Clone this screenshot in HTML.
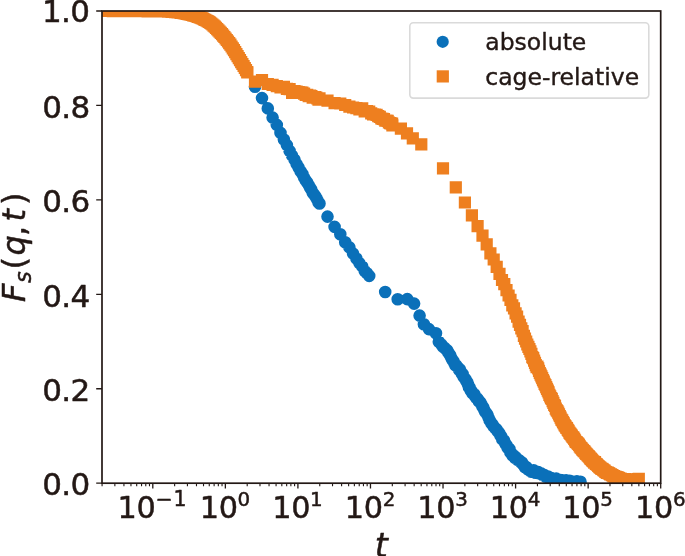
<!DOCTYPE html>
<html lang="en"><head><meta charset="utf-8"><title>Fs(q,t)</title>
<style>html,body{margin:0;padding:0;background:#fff}body{width:685px;height:556px;overflow:hidden}</style>
</head><body>
<svg width="685" height="556" viewBox="0 0 685 556" style="display:block">
<rect width="685" height="556" fill="#fff"/>
<defs><clipPath id="ax"><rect x="102.0" y="11.0" width="558.7" height="472.2"/></clipPath></defs>
<g clip-path="url(#ax)">
<path d="M255.0 86.8h0M262.0 98.1h0M267.8 108.4h0M272.6 117.6h0M276.8 124.9h0M280.5 132.9h0M283.9 139.5h0M286.9 145.1h0M289.6 151.0h0M292.1 155.6h0M294.5 159.6h0M296.6 164.1h0M298.7 167.8h0M300.6 171.3h0M302.4 174.0h0M304.1 177.6h0M305.7 180.4h0M307.2 182.5h0M308.7 185.1h0M310.1 187.7h0M311.4 189.8h0M312.7 192.7h0M314.0 194.4h0M315.1 196.0h0M316.3 198.0h0M317.4 200.1h0M318.5 202.6h0M319.5 203.5h0M327.5 216.6h0M334.6 226.9h0M340.3 234.3h0M345.2 242.2h0M349.4 247.4h0M353.1 253.6h0M356.4 258.5h0M359.4 263.1h0M362.2 266.4h0M364.7 271.0h0M367.0 273.2h0M369.2 275.9h0M385.2 292.0h0M397.7 299.2h0M407.3 299.1h0M414.1 303.6h0M419.6 315.6h0M423.9 324.2h0M428.9 329.1h0M436.0 333.2h0M438.8 341.8h0M441.0 344.1h0M441.9 345.1h0M442.8 346.5h0M443.7 347.4h0M444.6 347.9h0M445.5 348.9h0M446.4 349.6h0M447.3 350.4h0M448.2 352.2h0M449.1 353.7h0M450.0 355.0h0M450.9 357.1h0M451.8 359.1h0M452.7 360.3h0M453.6 361.5h0M454.5 363.4h0M455.4 365.2h0M456.3 365.4h0M457.2 366.6h0M458.1 367.8h0M459.0 369.7h0M459.9 369.4h0M460.8 371.8h0M461.7 373.6h0M462.6 374.0h0M463.5 376.7h0M464.4 377.9h0M465.3 379.0h0M466.2 381.1h0M467.1 382.0h0M468.0 384.3h0M468.9 387.2h0M469.8 387.6h0M470.7 390.6h0M471.6 391.2h0M472.5 393.2h0M473.4 394.1h0M474.3 394.2h0M475.2 396.3h0M476.1 397.8h0M477.0 398.2h0M477.9 399.2h0M478.8 401.2h0M479.7 401.8h0M480.6 402.6h0M481.5 404.4h0M482.4 406.6h0M483.3 407.4h0M484.2 409.7h0M485.1 411.7h0M486.0 412.7h0M486.9 413.9h0M487.8 415.6h0M488.7 418.1h0M489.6 420.2h0M490.5 421.6h0M491.4 423.3h0M492.3 424.3h0M493.2 426.0h0M494.1 426.9h0M495.0 428.1h0M495.9 428.8h0M496.8 429.7h0M497.7 431.4h0M498.6 432.2h0M499.5 433.4h0M500.4 435.5h0M501.3 436.4h0M502.2 439.3h0M503.1 439.8h0M504.0 440.5h0M504.9 442.8h0M505.8 444.2h0M506.7 445.4h0M507.6 447.9h0M508.5 448.6h0M509.4 448.9h0M510.3 452.3h0M511.2 452.9h0M512.1 455.1h0M513.0 455.0h0M513.9 455.7h0M514.8 457.8h0M515.7 457.2h0M516.6 458.5h0M517.5 459.8h0M518.4 459.8h0M519.3 460.4h0M520.2 461.3h0M521.1 462.5h0M522.0 462.5h0M522.9 464.2h0M523.8 465.1h0M524.7 467.0h0M525.6 466.6h0M526.5 467.3h0M527.4 469.0h0M528.3 469.2h0M529.2 470.3h0M530.1 470.8h0M531.0 471.6h0M531.9 471.0h0M532.8 471.4h0M533.7 470.4h0M534.6 471.3h0M535.5 472.7h0M536.4 471.8h0M537.3 472.0h0M538.2 472.0h0M539.1 473.2h0M540.0 473.4h0M540.9 473.2h0M541.8 474.5h0M542.7 474.8h0M543.6 475.4h0M544.5 475.1h0M545.4 476.6h0M546.3 476.3h0M547.2 476.4h0M548.1 476.6h0M549.0 477.1h0M549.9 478.0h0M550.8 477.8h0M551.7 478.8h0M552.6 478.8h0M553.5 479.5h0M554.4 479.5h0M555.3 479.3h0M556.2 478.6h0M557.1 479.9h0M558.0 480.3h0M558.9 480.1h0M559.8 480.5h0M560.7 480.1h0M561.6 480.3h0M562.5 480.2h0M563.4 481.4h0M564.3 480.9h0M565.2 480.7h0M566.1 480.3h0M567.0 481.0h0M567.9 481.8h0M568.8 481.4h0M569.7 480.8h0M570.6 482.0h0M571.5 482.0h0M572.4 481.8h0M573.3 481.8h0M574.2 482.0h0M575.1 481.8h0M576.0 482.0h0M576.9 481.4h0M577.8 482.8h0M578.7 482.4h0M579.6 483.6h0M580.5 481.8h0" stroke="#0a70b9" stroke-width="12.6" stroke-linecap="round" fill="none"/>
<path d="M83.9 4.9h12.2v12.2h-12.2zM85.1 4.9h12.2v12.2h-12.2zM86.3 4.9h12.2v12.2h-12.2zM87.5 4.9h12.2v12.2h-12.2zM88.7 4.9h12.2v12.2h-12.2zM89.9 4.9h12.2v12.2h-12.2zM91.1 4.9h12.2v12.2h-12.2zM92.3 4.9h12.2v12.2h-12.2zM93.5 4.9h12.2v12.2h-12.2zM94.7 4.9h12.2v12.2h-12.2zM95.9 4.9h12.2v12.2h-12.2zM97.1 4.9h12.2v12.2h-12.2zM98.3 4.9h12.2v12.2h-12.2zM99.5 4.9h12.2v12.2h-12.2zM100.7 4.9h12.2v12.2h-12.2zM101.9 4.9h12.2v12.2h-12.2zM103.1 4.9h12.2v12.2h-12.2zM104.3 4.9h12.2v12.2h-12.2zM105.5 4.9h12.2v12.2h-12.2zM106.7 5.0h12.2v12.2h-12.2zM107.9 5.0h12.2v12.2h-12.2zM109.1 5.0h12.2v12.2h-12.2zM110.3 5.0h12.2v12.2h-12.2zM111.5 5.0h12.2v12.2h-12.2zM112.7 5.0h12.2v12.2h-12.2zM113.9 5.0h12.2v12.2h-12.2zM115.1 5.0h12.2v12.2h-12.2zM116.3 5.0h12.2v12.2h-12.2zM117.5 5.0h12.2v12.2h-12.2zM118.7 5.0h12.2v12.2h-12.2zM119.9 5.0h12.2v12.2h-12.2zM121.1 5.0h12.2v12.2h-12.2zM122.3 5.0h12.2v12.2h-12.2zM123.5 5.0h12.2v12.2h-12.2zM124.7 5.0h12.2v12.2h-12.2zM125.9 5.1h12.2v12.2h-12.2zM127.1 5.1h12.2v12.2h-12.2zM128.3 5.1h12.2v12.2h-12.2zM129.5 5.1h12.2v12.2h-12.2zM130.7 5.1h12.2v12.2h-12.2zM131.9 5.1h12.2v12.2h-12.2zM133.1 5.1h12.2v12.2h-12.2zM134.3 5.1h12.2v12.2h-12.2zM135.5 5.1h12.2v12.2h-12.2zM136.7 5.1h12.2v12.2h-12.2zM137.9 5.1h12.2v12.2h-12.2zM139.1 5.1h12.2v12.2h-12.2zM140.3 5.1h12.2v12.2h-12.2zM141.5 5.2h12.2v12.2h-12.2zM142.7 5.2h12.2v12.2h-12.2zM143.9 5.2h12.2v12.2h-12.2zM145.1 5.2h12.2v12.2h-12.2zM146.3 5.2h12.2v12.2h-12.2zM147.5 5.2h12.2v12.2h-12.2zM148.7 5.2h12.2v12.2h-12.2zM149.9 5.2h12.2v12.2h-12.2zM151.1 5.2h12.2v12.2h-12.2zM152.3 5.3h12.2v12.2h-12.2zM153.5 5.3h12.2v12.2h-12.2zM154.7 5.3h12.2v12.2h-12.2zM155.9 5.3h12.2v12.2h-12.2zM157.1 5.3h12.2v12.2h-12.2zM158.3 5.4h12.2v12.2h-12.2zM159.5 5.4h12.2v12.2h-12.2zM160.7 5.4h12.2v12.2h-12.2zM161.9 5.5h12.2v12.2h-12.2zM163.1 5.5h12.2v12.2h-12.2zM164.3 5.6h12.2v12.2h-12.2zM165.5 5.7h12.2v12.2h-12.2zM166.7 5.8h12.2v12.2h-12.2zM167.9 5.9h12.2v12.2h-12.2zM169.1 6.0h12.2v12.2h-12.2zM170.3 6.1h12.2v12.2h-12.2zM171.5 6.3h12.2v12.2h-12.2zM172.7 6.4h12.2v12.2h-12.2zM173.9 6.5h12.2v12.2h-12.2zM175.1 6.7h12.2v12.2h-12.2zM176.3 6.8h12.2v12.2h-12.2zM177.5 7.0h12.2v12.2h-12.2zM178.7 7.3h12.2v12.2h-12.2zM179.9 7.5h12.2v12.2h-12.2zM181.1 7.7h12.2v12.2h-12.2zM182.3 8.0h12.2v12.2h-12.2zM183.5 8.3h12.2v12.2h-12.2zM184.7 8.6h12.2v12.2h-12.2zM185.9 8.9h12.2v12.2h-12.2zM187.1 9.2h12.2v12.2h-12.2zM188.3 9.6h12.2v12.2h-12.2zM189.5 9.9h12.2v12.2h-12.2zM190.7 10.3h12.2v12.2h-12.2zM191.9 10.7h12.2v12.2h-12.2zM193.1 11.1h12.2v12.2h-12.2zM194.3 11.6h12.2v12.2h-12.2zM195.5 12.1h12.2v12.2h-12.2zM196.7 12.6h12.2v12.2h-12.2zM197.9 13.2h12.2v12.2h-12.2zM199.1 13.7h12.2v12.2h-12.2zM200.3 14.4h12.2v12.2h-12.2zM201.5 15.0h12.2v12.2h-12.2zM202.7 15.7h12.2v12.2h-12.2zM203.9 16.5h12.2v12.2h-12.2zM205.1 17.4h12.2v12.2h-12.2zM206.3 18.4h12.2v12.2h-12.2zM207.5 19.5h12.2v12.2h-12.2zM208.7 20.6h12.2v12.2h-12.2zM209.9 21.8h12.2v12.2h-12.2zM211.1 23.0h12.2v12.2h-12.2zM212.3 24.2h12.2v12.2h-12.2zM213.5 25.5h12.2v12.2h-12.2zM214.7 26.8h12.2v12.2h-12.2zM215.9 28.1h12.2v12.2h-12.2zM217.1 29.5h12.2v12.2h-12.2zM218.3 30.9h12.2v12.2h-12.2zM219.5 32.4h12.2v12.2h-12.2zM220.7 33.9h12.2v12.2h-12.2zM221.9 35.4h12.2v12.2h-12.2zM223.1 37.0h12.2v12.2h-12.2zM224.3 38.6h12.2v12.2h-12.2zM225.5 40.4h12.2v12.2h-12.2zM226.7 42.2h12.2v12.2h-12.2zM227.9 44.1h12.2v12.2h-12.2zM229.1 46.0h12.2v12.2h-12.2zM230.3 48.1h12.2v12.2h-12.2zM231.5 50.1h12.2v12.2h-12.2zM232.7 52.1h12.2v12.2h-12.2zM233.9 54.0h12.2v12.2h-12.2zM235.1 56.0h12.2v12.2h-12.2zM236.3 57.9h12.2v12.2h-12.2zM237.5 59.9h12.2v12.2h-12.2zM238.7 61.9h12.2v12.2h-12.2zM239.9 64.0h12.2v12.2h-12.2zM241.1 66.1h12.2v12.2h-12.2zM241.3 66.4h12.2v12.2h-12.2zM248.9 75.6h12.2v12.2h-12.2zM255.9 73.9h12.2v12.2h-12.2zM261.7 77.9h12.2v12.2h-12.2zM266.5 78.8h12.2v12.2h-12.2zM270.7 80.1h12.2v12.2h-12.2zM274.4 81.2h12.2v12.2h-12.2zM277.8 80.8h12.2v12.2h-12.2zM280.8 82.8h12.2v12.2h-12.2zM283.5 83.1h12.2v12.2h-12.2zM286.0 86.7h12.2v12.2h-12.2zM288.4 85.1h12.2v12.2h-12.2zM290.5 85.4h12.2v12.2h-12.2zM292.6 86.0h12.2v12.2h-12.2zM294.5 86.3h12.2v12.2h-12.2zM296.3 86.6h12.2v12.2h-12.2zM298.0 87.6h12.2v12.2h-12.2zM299.6 88.7h12.2v12.2h-12.2zM301.1 88.7h12.2v12.2h-12.2zM302.6 90.0h12.2v12.2h-12.2zM304.0 89.6h12.2v12.2h-12.2zM305.3 90.1h12.2v12.2h-12.2zM306.6 91.6h12.2v12.2h-12.2zM307.9 91.3h12.2v12.2h-12.2zM309.0 90.9h12.2v12.2h-12.2zM310.2 91.4h12.2v12.2h-12.2zM311.3 92.3h12.2v12.2h-12.2zM312.4 93.6h12.2v12.2h-12.2zM313.4 92.3h12.2v12.2h-12.2zM321.4 94.6h12.2v12.2h-12.2zM328.5 97.1h12.2v12.2h-12.2zM334.2 97.4h12.2v12.2h-12.2zM339.1 98.9h12.2v12.2h-12.2zM343.3 100.6h12.2v12.2h-12.2zM347.0 101.4h12.2v12.2h-12.2zM350.3 102.1h12.2v12.2h-12.2zM353.3 103.4h12.2v12.2h-12.2zM356.1 102.2h12.2v12.2h-12.2zM358.6 105.4h12.2v12.2h-12.2zM360.9 105.0h12.2v12.2h-12.2zM363.1 105.4h12.2v12.2h-12.2zM365.1 107.3h12.2v12.2h-12.2zM367.0 108.3h12.2v12.2h-12.2zM368.8 108.4h12.2v12.2h-12.2zM370.5 108.7h12.2v12.2h-12.2zM372.1 110.1h12.2v12.2h-12.2zM373.7 110.8h12.2v12.2h-12.2zM375.2 112.4h12.2v12.2h-12.2zM376.6 112.7h12.2v12.2h-12.2zM377.9 113.1h12.2v12.2h-12.2zM379.2 114.5h12.2v12.2h-12.2zM380.4 114.5h12.2v12.2h-12.2zM381.6 114.8h12.2v12.2h-12.2zM382.8 116.4h12.2v12.2h-12.2zM383.9 117.1h12.2v12.2h-12.2zM384.9 117.3h12.2v12.2h-12.2zM386.0 117.5h12.2v12.2h-12.2zM386.3 119.2h12.2v12.2h-12.2zM394.8 122.5h12.2v12.2h-12.2zM400.9 127.2h12.2v12.2h-12.2zM406.7 132.3h12.2v12.2h-12.2zM415.2 138.3h12.2v12.2h-12.2zM436.9 162.3h12.2v12.2h-12.2zM449.7 181.2h12.2v12.2h-12.2zM458.8 196.4h12.2v12.2h-12.2zM465.8 209.2h12.2v12.2h-12.2zM471.5 220.1h12.2v12.2h-12.2zM476.4 229.5h12.2v12.2h-12.2zM480.6 238.3h12.2v12.2h-12.2zM484.3 247.2h12.2v12.2h-12.2zM487.6 253.4h12.2v12.2h-12.2zM490.6 260.8h12.2v12.2h-12.2zM493.4 267.8h12.2v12.2h-12.2zM495.9 273.9h12.2v12.2h-12.2zM498.2 278.0h12.2v12.2h-12.2zM500.4 284.0h12.2v12.2h-12.2zM502.5 289.4h12.2v12.2h-12.2zM504.4 293.7h12.2v12.2h-12.2zM506.2 299.3h12.2v12.2h-12.2zM507.9 302.3h12.2v12.2h-12.2zM509.5 307.2h12.2v12.2h-12.2zM511.0 310.6h12.2v12.2h-12.2zM512.5 315.6h12.2v12.2h-12.2zM513.9 318.8h12.2v12.2h-12.2zM515.2 322.2h12.2v12.2h-12.2zM516.5 325.0h12.2v12.2h-12.2zM517.8 329.8h12.2v12.2h-12.2zM518.9 332.5h12.2v12.2h-12.2zM520.1 335.4h12.2v12.2h-12.2zM521.2 338.4h12.2v12.2h-12.2zM522.3 340.7h12.2v12.2h-12.2zM523.3 342.9h12.2v12.2h-12.2zM524.3 345.3h12.2v12.2h-12.2zM525.3 347.7h12.2v12.2h-12.2zM526.2 351.0h12.2v12.2h-12.2zM527.1 352.0h12.2v12.2h-12.2zM528.0 354.5h12.2v12.2h-12.2zM528.9 356.8h12.2v12.2h-12.2zM529.7 359.0h12.2v12.2h-12.2zM530.5 361.1h12.2v12.2h-12.2zM531.3 360.5h12.2v12.2h-12.2zM532.1 362.3h12.2v12.2h-12.2zM532.9 364.7h12.2v12.2h-12.2zM533.7 366.9h12.2v12.2h-12.2zM534.5 368.6h12.2v12.2h-12.2zM535.3 370.3h12.2v12.2h-12.2zM536.1 372.0h12.2v12.2h-12.2zM536.9 374.0h12.2v12.2h-12.2zM537.7 375.6h12.2v12.2h-12.2zM538.5 377.7h12.2v12.2h-12.2zM539.3 379.0h12.2v12.2h-12.2zM540.1 381.0h12.2v12.2h-12.2zM540.9 382.7h12.2v12.2h-12.2zM541.7 384.6h12.2v12.2h-12.2zM542.5 386.2h12.2v12.2h-12.2zM543.3 388.7h12.2v12.2h-12.2zM544.1 390.2h12.2v12.2h-12.2zM544.9 392.0h12.2v12.2h-12.2zM545.7 392.7h12.2v12.2h-12.2zM546.5 395.1h12.2v12.2h-12.2zM547.3 396.8h12.2v12.2h-12.2zM548.1 398.9h12.2v12.2h-12.2zM548.9 399.8h12.2v12.2h-12.2zM549.7 402.5h12.2v12.2h-12.2zM550.5 404.1h12.2v12.2h-12.2zM551.3 405.0h12.2v12.2h-12.2zM552.1 406.6h12.2v12.2h-12.2zM552.9 408.2h12.2v12.2h-12.2zM553.7 409.9h12.2v12.2h-12.2zM554.5 411.6h12.2v12.2h-12.2zM555.3 413.5h12.2v12.2h-12.2zM556.1 414.3h12.2v12.2h-12.2zM556.9 416.0h12.2v12.2h-12.2zM557.7 417.2h12.2v12.2h-12.2zM558.5 419.0h12.2v12.2h-12.2zM559.3 420.1h12.2v12.2h-12.2zM560.1 421.6h12.2v12.2h-12.2zM560.9 422.1h12.2v12.2h-12.2zM561.7 423.7h12.2v12.2h-12.2zM562.5 424.7h12.2v12.2h-12.2zM563.3 426.6h12.2v12.2h-12.2zM564.1 427.5h12.2v12.2h-12.2zM564.9 428.4h12.2v12.2h-12.2zM565.7 429.5h12.2v12.2h-12.2zM566.5 430.9h12.2v12.2h-12.2zM567.3 431.6h12.2v12.2h-12.2zM568.1 432.7h12.2v12.2h-12.2zM568.9 434.2h12.2v12.2h-12.2zM569.7 435.8h12.2v12.2h-12.2zM570.5 436.1h12.2v12.2h-12.2zM571.3 437.0h12.2v12.2h-12.2zM572.1 437.8h12.2v12.2h-12.2zM572.9 438.8h12.2v12.2h-12.2zM573.7 440.3h12.2v12.2h-12.2zM574.5 441.4h12.2v12.2h-12.2zM575.3 442.1h12.2v12.2h-12.2zM576.1 443.2h12.2v12.2h-12.2zM576.9 444.1h12.2v12.2h-12.2zM577.7 445.0h12.2v12.2h-12.2zM578.5 445.4h12.2v12.2h-12.2zM579.3 446.7h12.2v12.2h-12.2zM580.1 447.8h12.2v12.2h-12.2zM580.9 448.4h12.2v12.2h-12.2zM581.7 449.4h12.2v12.2h-12.2zM582.5 450.1h12.2v12.2h-12.2zM583.3 451.1h12.2v12.2h-12.2zM584.1 452.3h12.2v12.2h-12.2zM584.9 452.8h12.2v12.2h-12.2zM585.7 453.7h12.2v12.2h-12.2zM586.5 454.7h12.2v12.2h-12.2zM587.3 455.4h12.2v12.2h-12.2zM588.1 456.5h12.2v12.2h-12.2zM588.9 456.1h12.2v12.2h-12.2zM589.7 457.7h12.2v12.2h-12.2zM590.5 458.0h12.2v12.2h-12.2zM591.3 458.9h12.2v12.2h-12.2zM592.1 459.9h12.2v12.2h-12.2zM592.9 460.6h12.2v12.2h-12.2zM593.7 461.3h12.2v12.2h-12.2zM594.5 461.7h12.2v12.2h-12.2zM595.3 462.8h12.2v12.2h-12.2zM596.1 462.8h12.2v12.2h-12.2zM596.9 463.5h12.2v12.2h-12.2zM597.7 464.3h12.2v12.2h-12.2zM598.5 464.5h12.2v12.2h-12.2zM599.3 465.8h12.2v12.2h-12.2zM600.1 466.0h12.2v12.2h-12.2zM600.9 466.8h12.2v12.2h-12.2zM601.7 466.6h12.2v12.2h-12.2zM602.5 467.0h12.2v12.2h-12.2zM603.3 467.6h12.2v12.2h-12.2zM604.1 468.2h12.2v12.2h-12.2zM604.9 468.3h12.2v12.2h-12.2zM605.7 469.0h12.2v12.2h-12.2zM606.5 469.3h12.2v12.2h-12.2zM607.3 470.2h12.2v12.2h-12.2zM608.1 469.9h12.2v12.2h-12.2zM608.9 470.8h12.2v12.2h-12.2zM609.7 470.7h12.2v12.2h-12.2zM610.5 470.9h12.2v12.2h-12.2zM611.3 471.3h12.2v12.2h-12.2zM612.1 471.5h12.2v12.2h-12.2zM612.9 472.1h12.2v12.2h-12.2zM613.7 472.7h12.2v12.2h-12.2zM614.5 472.6h12.2v12.2h-12.2zM615.3 473.0h12.2v12.2h-12.2zM616.1 473.4h12.2v12.2h-12.2zM616.9 473.2h12.2v12.2h-12.2zM617.7 473.3h12.2v12.2h-12.2zM618.5 473.3h12.2v12.2h-12.2zM619.3 473.1h12.2v12.2h-12.2zM620.1 473.9h12.2v12.2h-12.2zM620.9 473.3h12.2v12.2h-12.2zM621.7 474.2h12.2v12.2h-12.2zM622.5 474.1h12.2v12.2h-12.2zM623.3 474.5h12.2v12.2h-12.2zM624.1 474.2h12.2v12.2h-12.2zM624.9 474.1h12.2v12.2h-12.2zM625.7 474.5h12.2v12.2h-12.2zM626.5 474.2h12.2v12.2h-12.2zM627.3 474.3h12.2v12.2h-12.2zM628.1 474.4h12.2v12.2h-12.2zM628.9 474.2h12.2v12.2h-12.2zM629.7 474.1h12.2v12.2h-12.2zM630.5 473.8h12.2v12.2h-12.2zM631.3 473.8h12.2v12.2h-12.2zM632.1 473.1h12.2v12.2h-12.2zM632.7 472.7h12.2v12.2h-12.2z" fill="#ee7f1f"/>
</g>
<path d="M152.80 483.2v5.4M225.36 483.2v5.4M297.91 483.2v5.4M370.47 483.2v5.4M443.03 483.2v5.4M515.59 483.2v5.4M588.14 483.2v5.4M660.70 483.2v5.4M102.0 483.20h-5.8M102.0 388.76h-5.8M102.0 294.32h-5.8M102.0 199.88h-5.8M102.0 105.44h-5.8M102.0 11.00h-5.8" stroke="#231815" stroke-width="1.3" fill="none"/>
<path d="M102.08 483.2v3.1M114.86 483.2v3.1M123.93 483.2v3.1M130.96 483.2v3.1M136.70 483.2v3.1M141.56 483.2v3.1M145.77 483.2v3.1M149.48 483.2v3.1M174.64 483.2v3.1M187.42 483.2v3.1M196.48 483.2v3.1M203.52 483.2v3.1M209.26 483.2v3.1M214.12 483.2v3.1M218.33 483.2v3.1M222.04 483.2v3.1M247.20 483.2v3.1M259.98 483.2v3.1M269.04 483.2v3.1M276.07 483.2v3.1M281.82 483.2v3.1M286.67 483.2v3.1M290.88 483.2v3.1M294.59 483.2v3.1M319.76 483.2v3.1M332.53 483.2v3.1M341.60 483.2v3.1M348.63 483.2v3.1M354.37 483.2v3.1M359.23 483.2v3.1M363.44 483.2v3.1M367.15 483.2v3.1M392.31 483.2v3.1M405.09 483.2v3.1M414.15 483.2v3.1M421.19 483.2v3.1M426.93 483.2v3.1M431.79 483.2v3.1M436.00 483.2v3.1M439.71 483.2v3.1M464.87 483.2v3.1M477.65 483.2v3.1M486.71 483.2v3.1M493.74 483.2v3.1M499.49 483.2v3.1M504.35 483.2v3.1M508.55 483.2v3.1M512.26 483.2v3.1M537.43 483.2v3.1M550.20 483.2v3.1M559.27 483.2v3.1M566.30 483.2v3.1M572.05 483.2v3.1M576.90 483.2v3.1M581.11 483.2v3.1M584.82 483.2v3.1M609.98 483.2v3.1M622.76 483.2v3.1M631.83 483.2v3.1M638.86 483.2v3.1M644.60 483.2v3.1M649.46 483.2v3.1M653.67 483.2v3.1M657.38 483.2v3.1" stroke="#231815" stroke-width="1.1" fill="none"/>
<rect x="102.0" y="11.0" width="558.7" height="472.2" fill="none" stroke="#231815" stroke-width="1.7"/>
<g font-family="'DejaVu Sans', 'Liberation Sans', sans-serif" fill="#231815" stroke="#231815" stroke-width="0.5" stroke-linejoin="round">
<text x="89.7" y="495.3" font-size="31.0" letter-spacing="-0.6" text-anchor="end">0.0</text>
<text x="89.7" y="400.9" font-size="31.0" letter-spacing="-0.6" text-anchor="end">0.2</text>
<text x="89.7" y="306.5" font-size="31.0" letter-spacing="-0.6" text-anchor="end">0.4</text>
<text x="89.7" y="212.0" font-size="31.0" letter-spacing="-0.6" text-anchor="end">0.6</text>
<text x="89.7" y="117.6" font-size="31.0" letter-spacing="-0.6" text-anchor="end">0.8</text>
<text x="89.4" y="22.3" font-size="31.0" letter-spacing="-0.6" text-anchor="end">1.0</text>
<text x="151.9" y="517.7" font-size="30.3" letter-spacing="-0.3" text-anchor="middle">10<tspan font-size="20.45" dy="-11.6">−</tspan><tspan font-size="20.45" dx="1.2">1</tspan></text>
<text x="224.8" y="517.7" font-size="30.3" letter-spacing="-0.3" text-anchor="middle">10<tspan font-size="19.85" dy="-11.8">0</tspan></text>
<text x="297.3" y="517.7" font-size="30.3" letter-spacing="-0.3" text-anchor="middle">10<tspan font-size="19.85" dy="-11.8">1</tspan></text>
<text x="369.9" y="517.7" font-size="30.3" letter-spacing="-0.3" text-anchor="middle">10<tspan font-size="19.85" dy="-11.8">2</tspan></text>
<text x="442.4" y="517.7" font-size="30.3" letter-spacing="-0.3" text-anchor="middle">10<tspan font-size="19.85" dy="-11.8">3</tspan></text>
<text x="515.0" y="517.7" font-size="30.3" letter-spacing="-0.3" text-anchor="middle">10<tspan font-size="19.85" dy="-11.8">4</tspan></text>
<text x="587.5" y="517.7" font-size="30.3" letter-spacing="-0.3" text-anchor="middle">10<tspan font-size="19.85" dy="-11.8">5</tspan></text>
<text x="660.1" y="517.7" font-size="30.3" letter-spacing="-0.3" text-anchor="middle">10<tspan font-size="19.85" dy="-11.8">6</tspan></text>
<text x="381.3" y="557.0" font-size="33.4" font-style="italic" text-anchor="middle">t</text>
<text transform="translate(24.9 249) rotate(-90)" font-size="32.0"><tspan x="-53.0" y="0" font-style="italic">F</tspan><tspan x="-34.0" y="6.3" font-size="22.40" font-style="italic">s</tspan><tspan x="-20.6" y="0">(</tspan><tspan x="-6.5" y="0" font-style="italic">q</tspan><tspan x="13.0" y="0">,</tspan><tspan x="27.5" y="0" font-style="italic">t</tspan><tspan x="44.0" y="0">)</tspan></text>
<rect x="409.8" y="22.8" width="239" height="75.3" rx="3.5" ry="3.5" fill="#fff" fill-opacity="0.8" stroke="#dadada" stroke-width="1.6"/>
<circle cx="442.7" cy="41.8" r="6.1" fill="#0a70b9" stroke="none"/>
<rect x="436.7" y="70.3" width="12.2" height="12.2" fill="#ee7f1f" stroke="none"/>
<text x="485.3" y="50.3" stroke-width="0.4" font-size="23.5">absolute</text>
<text x="485.3" y="84.6" stroke-width="0.4" font-size="23.5">cage-relative</text>
</g>
</svg>
</body></html>
